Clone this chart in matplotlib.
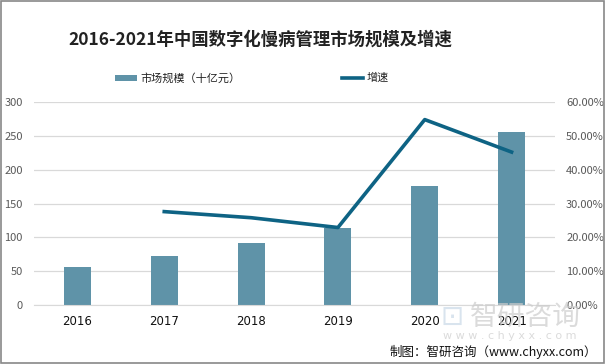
import matplotlib
matplotlib.use("Agg")
import matplotlib.pyplot as plt
from matplotlib.patches import Rectangle

plt.rcParams['font.family'] = ['Noto Sans CJK SC', 'DejaVu Sans']

years = ['2016', '2017', '2018', '2019', '2020', '2021']
market = [56.5, 72.5, 91.5, 114.0, 176.0, 255.5]
growth_years = ['2017', '2018', '2019', '2020', '2021']
growth = [27.6, 25.8, 22.9, 54.8, 45.2]

bar_color = '#5F93A8'
line_color = '#0E6384'

fig = plt.figure(figsize=(6.06, 3.64), dpi=100)
fig.patches.append(Rectangle((0.002, 0.003), 0.995, 0.994, transform=fig.transFigure,
                             fill=False, edgecolor='#888888', linewidth=1.2))
ax = fig.add_axes([34/606, 1-305/364, (555-34)/606, 203/364])
ax2 = ax.twinx()

x = list(range(len(years)))
ax.bar(x, market, width=0.31, color=bar_color, zorder=2)
ax.set_ylim(0, 300)
ax.set_yticks(range(0, 301, 50))
ax.set_xlim(-0.5, len(years) - 0.5)
ax.set_xticks(x)
ax.set_xticklabels(years, fontsize=8.5, color='#111111', family=['DejaVu Sans'])
ax.grid(axis='y', color='#D9D9D9', linewidth=0.9, zorder=0)
ax.set_axisbelow(True)
for s in ['top', 'right', 'left']:
    ax.spines[s].set_visible(False)
ax.spines['bottom'].set_color('#D9D9D9')
ax.tick_params(axis='y', length=0, labelsize=8, labelcolor='#595959', pad=8)
ax.tick_params(axis='x', length=0, pad=7)

gx = [years.index(y) for y in growth_years]
ax2.plot(gx, growth, color=line_color, linewidth=2.6, zorder=3)
ax2.set_ylim(0, 60)
ax2.set_yticks(range(0, 61, 10))
ax2.set_yticklabels([f'{v:.2f}%' for v in range(0, 61, 10)])
ax2.tick_params(axis='y', length=0, labelsize=8, labelcolor='#595959', pad=8)
for s in ['top', 'right', 'left', 'bottom']:
    ax2.spines[s].set_visible(False)

fig.text(260/606, 1-40/364, '2016-2021年中国数字化慢病管理市场规模及增速', ha='center', va='center',
         fontsize=12.5, fontweight='bold', color='#222222')

# legend
fig.patches.append(Rectangle((115/606, 1-81/364), 22/606, 6/364, transform=fig.transFigure,
                             facecolor=bar_color, edgecolor='none'))
fig.text(140/606, 1-78/364, '市场规模（十亿元）', ha='left', va='center', fontsize=8, color='#222222')
fig.lines.append(plt.Line2D([342/606, 363/606], [1-78/364, 1-78/364], transform=fig.transFigure,
                            color=line_color, linewidth=2.6))
fig.text(367/606, 1-78/364, '增速', ha='left', va='center', fontsize=8, color='#222222')

# watermark
fig.text(470/606, 1-317/364, '智研咨询', ha='left', va='center', fontsize=20, color='#CCCCCC', alpha=0.7)
fig.text(452/606, 1-317/364, '⊡', ha='center', va='center', fontsize=20, color='#C9D9E8', alpha=0.7,
         family=['DejaVu Sans'])
fig.text(510/606, 1-336/364, 'w w w . c h y x x . c o m', ha='center', va='center', fontsize=8,
         color='#CCCCCC', alpha=0.7, family=['DejaVu Sans'])

# source
fig.text(597/606, 1-352/364, '制图：智研咨询（www.chyxx.com）', ha='right', va='center',
         fontsize=9, color='#111111')

fig.savefig('out.png', dpi=100)
